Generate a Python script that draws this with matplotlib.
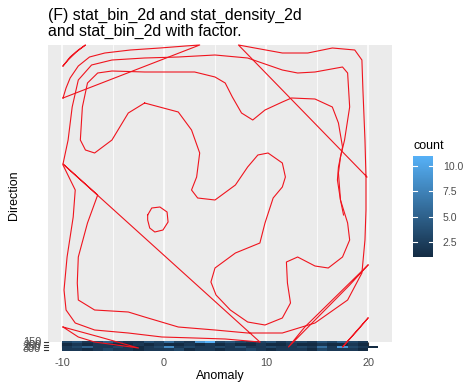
import numpy as np
import matplotlib
matplotlib.use("Agg")
import matplotlib.pyplot as plt
from matplotlib.colors import LinearSegmentedColormap, Normalize
from matplotlib.colorbar import ColorbarBase

plt.rcParams['font.family'] = ['Liberation Sans', 'DejaVu Sans']

# ---------------- data ----------------
title_line1 = "(F) stat_bin_2d and stat_density_2d"
title_line2 = "and stat_bin_2d with factor."
x_label = "Anomaly"
y_label = "Direction"
x_ticks = [-10, 0, 10, 20]
x_minor = [-5, 5, 15]

# density contour paths (Anomaly, Direction)
c1_x = [-9.9, -9.2, -8.4, -7.7, -8.6, -9.4, -9.9]
c1_y = [276, 285, 292, 297, 290, 282, 276]

c2_x = [-9.9, -9.6, -9.2, -8.4, -7.3, -5.8, -3.3, -0.4, 2.1, 3.5, -9.9]
c2_y = [244, 254, 264, 276, 285, 289, 292, 294, 296, 297, 244]

c3_x = [19.9, 7.3, 8.9, 11.6, 14.1, 16.5, 18.7, 19.4, 19.5, 19.7, 19.8, 19.8, 19.7,
        19.4, 18.0, 14.8, 11.6, 8.2, 5.0, 1.4, -1.9, -3.5, -6.8, -8.4, -8.5, -8.4,
        -7.5, -6.5, -9.9, 9.4]
c3_y = [165, 297, 294, 289, 289, 294, 292, 282, 252, 202, 165, 132, 102,
        69, 42, 19, 9, 9, 12, 15, 25, 30, 32, 42, 59, 85,
        119, 147, 178, 0]

c4_x = [-9.9, -8.7, -8.9, -9.5, -9.8, -9.6, -8.7, -6.8, -3.5, -0.2, 3.0, 6.0, 9.4]
c4_y = [177, 152, 125, 85, 52, 32, 19, 12, 9, 5, 4, 3, 0]

c5_x = [-9.9, -9.4, -9.0, -8.4, -7.1, -5.1, -1.9, 1.4, 5.0, 8.2, 11.6, 13.1, 14.8,
        17.5, 18.0, 18.2, 17.7, 17.3, 17.1, 17.3, 17.6]
c5_y = [178, 202, 235, 262, 277, 282, 284, 285, 287, 284, 272, 269, 270,
        275, 269, 235, 202, 185, 169, 142, 127]

c6_x = [-1.9, 1.4, 2.7, 3.5, 3.2, 2.7, 3.3, 5.0, 7.0, 8.2, 9.2, 10.2, 11.6, 11.9,
        11.6, 10.7, 9.9, 9.4, 7.0, 5.0, 4.6, 5.1, 6.5, 8.2, 9.9, 11.6, 12.4, 12.1,
        12.0, 13.1, 14.8, 16.1, 17.5, 18.2, 18.0, 17.3, 17.0, 17.1, 17.5, 17.1,
        16.5, 14.8, 12.5, 11.6, 9.9, 8.7, 7.6, 6.7, 6.0, 5.0, 3.0, -1.9, -5.1,
        -6.5, -7.5, -8.0, -8.2, -7.7, -6.8, -5.1, -3.5, -1.9]
c6_y = [239, 230, 212, 189, 165, 152, 144, 142, 157, 175, 187, 189, 179, 165,
        155, 144, 119, 99, 89, 74, 60, 47, 32, 20, 17, 24, 39, 59,
        80, 85, 76, 74, 85, 102, 119, 142, 162, 175, 195, 219,
        235, 243, 244, 240, 232, 222, 229, 245, 259, 265, 270, 270, 271,
        269, 259, 235, 202, 192, 189, 202, 229, 239]

c7_x = [-1.6, -1.2, -0.4, 0.3, 0.4, -0.1, -0.9, -1.4, -1.6, -1.6]
c7_y = [127, 134, 135, 130, 120, 112, 110, 114, 122, 127]

c8_x = [-9.9, -8.4, -6.8, -2.5, -6.3, -9.9]
c8_y = [15, 5, 0, -6, 5, 15]

c9_x = [20.0, 17.3, 13.8, 12.2, 15.1, 18.2, 20.0]
c9_y = [77, 50, 15, -5, 25, 57, 77]

c10_x = [20.0, 18.7, 17.5, 19.0, 20.0]
c10_y = [24, 9, -5, 12, 24]

contours = [(c1_x, c1_y), (c2_x, c2_y), (c3_x, c3_y), (c4_x, c4_y), (c5_x, c5_y),
            (c6_x, c6_y), (c7_x, c7_y), (c8_x, c8_y), (c9_x, c9_y), (c10_x, c10_y)]

# bin_2d with factor: bins along Anomaly, factor levels of Direction
bin_x = np.arange(-9.5, 21.5, 1.0)
level_pos = [0.0, -2.5, -5.0, -7.5]
level_labels = ["150", "200", "250", "300"]
nan = np.nan
counts = np.array([
    [3, 4, 2, 3, 5, 3, 2, 2, 4, 3, 6, 3, 2, 9, 11, 3, 4, 3, 2, 3, 4, 2, 3, 3, 2, 4, 3, 5, 3, 2, nan],
    [1, 2, 1, 2, 2, 1, 1, 2, 1, 2, 1, 1, 2, 1, 2, 1, 2, 1, 1, 2, 1, 1, 2, 1, 1, 2, 1, 1, 2, 1, nan],
    [2, 3, 5, 2, 2, 3, 2, 1, 2, 3, 8, 2, 3, 2, 2, 3, 2, 4, 2, 2, 3, 2, 2, 3, 2, 6, 2, 9, 3, 2, 1],
    [2, 2, 1, 2, 3, 2, 2, 1, 2, 2, 2, 3, 1, 2, 2, 1, 2, 2, 3, 2, 1, 2, 2, 2, 1, 3, 2, 2, 2, 1, nan],
])
cbar_ticks = [2.5, 5.0, 7.5, 10.0]
cbar_labels = ["2.5", "5.0", "7.5", "10.0"]

# ---------------- drawing ----------------
W, H = 474, 388
fig = plt.figure(figsize=(W / 100, H / 100), dpi=100)
ax = fig.add_axes([48 / W, (H - 342) / H, 344 / W, 297 / H])
ax.set_facecolor("#EBEBEB")
for s in ax.spines.values():
    s.set_visible(False)
ax.set_xlim(-11.37, 22.35)
ax.set_ylim(0, 297)

for v in x_minor:
    ax.axvline(v, color="white", lw=0.55, zorder=0.5)
for v in x_ticks:
    ax.axvline(v, color="white", lw=1.1, zorder=0.5)

cmap = LinearSegmentedColormap.from_list("gg", ["#132B43", "#56B1F7"])
norm = Normalize(vmin=1, vmax=11)
mesh = ax.pcolormesh(bin_x, level_pos, np.ma.masked_invalid(counts), cmap=cmap,
                     norm=norm, shading="nearest", zorder=2)
mesh.set_clip_on(False)

for cx, cy in contours:
    ln, = ax.plot(cx, cy, color="#F0141E", lw=0.8, zorder=3)
    ln.set_clip_on(False)

ax.set_xticks(x_ticks)
ax.set_xticklabels([str(t) for t in x_ticks])
ax.tick_params(axis="x", length=3.5, width=0.8, color="#333333", labelcolor="#4D4D4D",
               labelsize=7.8, pad=8)
ax.set_yticks([])

ytr = ax.get_yaxis_transform()
for p, lab in zip(level_pos, level_labels):
    ax.text(-0.02, p, lab, transform=ytr, ha="right", va="center", fontsize=7.8,
            color="#4D4D4D", clip_on=False)
    tk, = ax.plot([-0.011, 0], [p, p], transform=ytr, color="#333333", lw=0.8)
    tk.set_clip_on(False)

fig.text(220 / W, 1 - 376 / H, x_label, ha="center", va="center", fontsize=9)
fig.text(14 / W, 1 - 195 / H, y_label, ha="center", va="center", fontsize=9,
         rotation=90)

fig.text(48 / W, 1 - 15 / H, title_line1, ha="left", va="center", fontsize=11.4)
fig.text(48 / W, 1 - 31 / H, title_line2, ha="left", va="center", fontsize=11.4)

# colorbar legend
cax = fig.add_axes([413 / W, (H - 257) / H, 20 / W, 101 / H])
cb = ColorbarBase(cax, cmap=cmap, norm=norm, orientation="vertical")
cb.outline.set_visible(False)
cb.set_ticks(cbar_ticks)
cb.set_ticklabels(cbar_labels)
cax.tick_params(length=0, labelsize=7.6, labelcolor="#4D4D4D", pad=7)
for t in cbar_ticks:
    cax.plot([0, 0.2], [t, t], color="white", lw=0.8)
    cax.plot([0.8, 1.0], [t, t], color="white", lw=0.8)
cax.set_xlim(0, 1)
fig.text(413 / W, 1 - 146 / H, "count", ha="left", va="center", fontsize=9)

fig.savefig("out.png", dpi=100)
